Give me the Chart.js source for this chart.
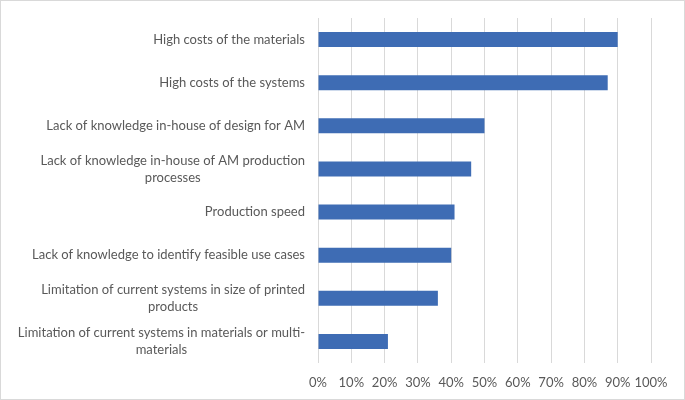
<!DOCTYPE html>
<html>
<head>
<meta charset="utf-8">
<script src="https://cdn.jsdelivr.net/npm/chart.js@4/dist/chart.umd.min.js"></script>
<style>
  html, body { margin: 0; padding: 0; background: #fff; }
  #wrap { position: relative; width: 685px; height: 400px; }
</style>
</head>
<body>
<div id="wrap"><canvas id="chart_barriers"></canvas></div>
<script>
// categories (multi-line labels as arrays)
var categories = [
    ['High costs of the materials'],
    ['High costs of the systems'],
    ['Lack of knowledge in-house of design for AM'],
    ['Lack of knowledge in-house of AM production', 'processes'],
    ['Production speed'],
    ['Lack of knowledge to identify feasible use cases'],
    ['Limitation of current systems in size of printed', 'products'],
    ['Limitation of current systems in materials or multi-', 'materials']
];
var shares = [90, 87, 50, 46, 41, 40, 36, 21];
var xTicks = [0, 10, 20, 30, 40, 50, 60, 70, 80, 90, 100];

var labelFont = '13px Lato';
var labelColor = '#595959';

var chart_barriers = new Chart(document.getElementById('chart_barriers'), {
    type: 'bar',
    data: {
        labels: categories,
        datasets: [
            {
                label: 'Share',
                data: shares,
                backgroundColor: '#3e6cb4',
                borderWidth: 0,
                barPercentage: 0.35,
                categoryPercentage: 1
            }
        ]
    },
    options: {
        indexAxis: 'y',
        animation: false,
        responsive: true,
        maintainAspectRatio: false,
        layout: {
            padding: { top: 18, right: 34, bottom: 0, left: 0 }
        },
        plugins: {
            legend: { display: false },
            tooltip: { enabled: false }
        },
        scales: {
            x: {
                min: 0,
                max: 100,
                afterBuildTicks: function (scale) {
                    scale.ticks = xTicks.map(function (v) { return { value: v }; });
                },
                afterFit: function (scale) {
                    scale.height = 37;
                },
                ticks: {
                    padding: 12,
                    maxRotation: 0,
                    minRotation: 0,
                    autoSkip: false,
                    color: labelColor,
                    font: { family: 'Lato', size: 13 },
                    callback: function (v) { return v + '%'; }
                },
                grid: {
                    color: '#d9d9d9',
                    lineWidth: 1,
                    drawTicks: false
                },
                border: { display: false }
            },
            y: {
                ticks: { display: false },
                grid: { display: false },
                border: { display: false },
                afterFit: function (scale) {
                    scale.width = 318;
                }
            }
        }
    },
    plugins: [{
        id: 'customPlugin',
        beforeDraw: (chart, args, options) => {
            const ctx = chart.canvas.getContext('2d');
            ctx.save();
            ctx.globalCompositeOperation = 'destination-over';
            ctx.fillStyle = 'white';
            ctx.fillRect(0, 0, chart.canvas.width, chart.canvas.height);
            ctx.restore();
        },
        afterDraw: (chart) => {
            const ctx = chart.ctx;
            const yScale = chart.scales.y;
            const rightEdge = 305;
            const lineH = 17;
            ctx.save();
            ctx.font = labelFont;
            ctx.fillStyle = labelColor;
            ctx.textAlign = 'center';
            ctx.textBaseline = 'middle';
            categories.forEach(function (lines, i) {
                const yc = yScale.getPixelForTick(i);
                let w = 0;
                lines.forEach(function (l) { w = Math.max(w, ctx.measureText(l).width); });
                const xc = rightEdge - w / 2;
                const y0 = yc - (lines.length - 1) * lineH / 2;
                lines.forEach(function (l, j) {
                    ctx.fillText(l, xc, y0 + j * lineH);
                });
            });
            // outer frame
            ctx.strokeStyle = '#d9d9d9';
            ctx.lineWidth = 1;
            ctx.strokeRect(0.5, 0.5, chart.width - 1, chart.height - 1);
            ctx.restore();
        }
    }]
});
</script>
</body>
</html>
